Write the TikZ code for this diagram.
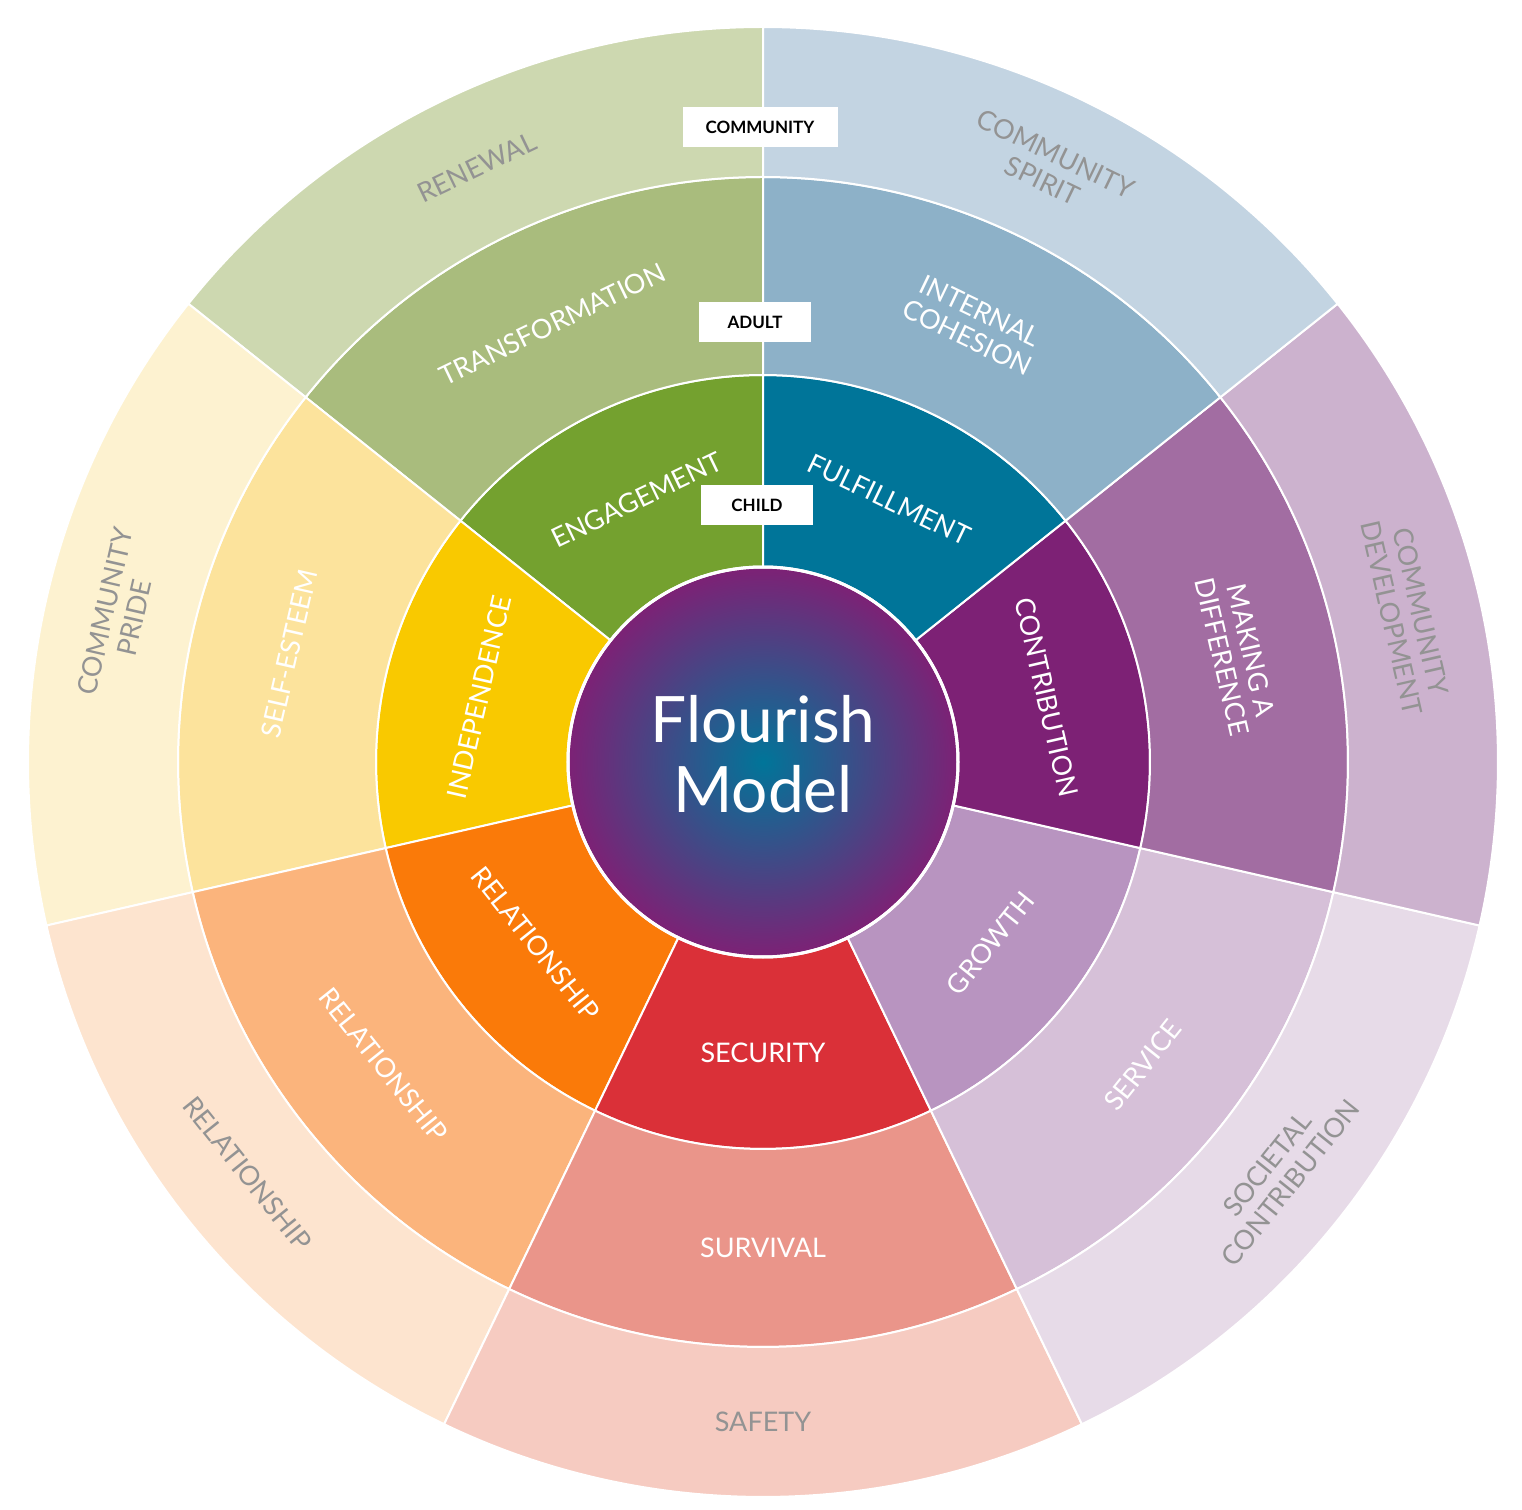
\documentclass[tikz,border=0pt]{standalone}
\usepackage{fontspec}
\setmainfont{Lato}
\begin{document}
\begin{tikzpicture}[x=1pt,y=1pt,
  lab/.style={font=\fontsize{27}{30}\selectfont, align=center, inner sep=0pt},
  inlab/.style={lab,text=white},
  outlab/.style={lab,text=gray!85},
  tag/.style={fill=white, font=\bfseries\fontsize{17}{19}\selectfont, text=black, minimum width=112pt, minimum height=40pt, inner sep=0pt}]
\useasboundingbox (-763,-747) rectangle (759,762);
\fill[white] (-763,-747) rectangle (759,762);
\def\ra{195}\def\rb{387}\def\rc{585}\def\rd{735}
\definecolor{c0a}{HTML}{74A12F}\definecolor{c0b}{HTML}{A9BC7D}\definecolor{c0c}{HTML}{CDD8B0}
\definecolor{c1a}{HTML}{F9C900}\definecolor{c1b}{HTML}{FCE39C}\definecolor{c1c}{HTML}{FDF2D0}
\definecolor{c2a}{HTML}{FA7A09}\definecolor{c2b}{HTML}{FBB47C}\definecolor{c2c}{HTML}{FDE4CF}
\definecolor{c3a}{HTML}{DA3038}\definecolor{c3b}{HTML}{EA958A}\definecolor{c3c}{HTML}{F6CBC1}
\definecolor{c4a}{HTML}{B894C0}\definecolor{c4b}{HTML}{D6C0D8}\definecolor{c4c}{HTML}{E7DBE8}
\definecolor{c5a}{HTML}{7D2175}\definecolor{c5b}{HTML}{A26DA2}\definecolor{c5c}{HTML}{CCB2CE}
\definecolor{c6a}{HTML}{007599}\definecolor{c6b}{HTML}{8DB1C8}\definecolor{c6c}{HTML}{C3D4E2}
\foreach \i in {0,...,6}{
  \pgfmathsetmacro{\aa}{90+51.4286*\i}
  \pgfmathsetmacro{\ab}{90+51.4286*(\i+1)}
  \fill[c\i a, draw=white, line width=2pt] (\aa:\ra) arc (\aa:\ab:\ra) -- (\ab:\rb) arc (\ab:\aa:\rb) -- cycle;
  \fill[c\i b, draw=white, line width=2pt] (\aa:\rb) arc (\aa:\ab:\rb) -- (\ab:\rc) arc (\ab:\aa:\rc) -- cycle;
  \fill[c\i c, draw=white, line width=2pt] (\aa:\rc) arc (\aa:\ab:\rc) -- (\ab:\rd) arc (\ab:\aa:\rd) -- cycle;
}
\shade[inner color=c6a, outer color=c5a, draw=white, line width=3pt] (0,0) circle (\ra);
\draw[white, line width=3pt] (0,0) circle (\ra);
\node[font=\fontsize{64}{70}\selectfont, text=white, align=center] (center) at (0,8) {Flourish\\Model};
% inner ring
\node[inlab, rotate=25.7] (i0) at (115.7:291) {ENGAGEMENT};
\node[inlab, rotate=77.1] (i1) at (167.1:291) {INDEPENDENCE};
\node[inlab, rotate=-51.4] (i2) at (218.6:291) {RELATIONSHIP};
\node[inlab] (i3) at (270:291) {SECURITY};
\node[inlab, rotate=51.4] (i4) at (321.4:291) {GROWTH};
\node[inlab, rotate=-77.1] (i5) at (12.9:291) {CONTRIBUTION};
\node[inlab, rotate=-25.7] (i6) at (64.3:291) {FULFILLMENT};
% middle ring
\node[inlab, rotate=25.7] (m0) at (115.7:486) {TRANSFORMATION};
\node[inlab, rotate=77.1] (m1) at (167.1:486) {SELF-ESTEEM};
\node[inlab, rotate=-51.4] (m2) at (218.6:486) {RELATIONSHIP};
\node[inlab] (m3) at (270:486) {SURVIVAL};
\node[inlab, rotate=51.4] (m4) at (321.4:486) {SERVICE};
\node[inlab, rotate=-77.1] (m5) at (12.9:486) {MAKING A\\DIFFERENCE};
\node[inlab, rotate=-25.7] (m6) at (64.3:486) {INTERNAL\\COHESION};
% outer ring
\node[outlab, rotate=25.7] (o0) at (115.7:660) {RENEWAL};
\node[outlab, rotate=77.1] (o1) at (167.1:660) {COMMUNITY\\PRIDE};
\node[outlab, rotate=-51.4] (o2) at (218.6:660) {RELATIONSHIP};
\node[outlab] (o3) at (270:660) {SAFETY};
\node[outlab, rotate=51.4] (o4) at (321.4:660) {SOCIETAL\\CONTRIBUTION};
\node[outlab, rotate=-77.1] (o5) at (12.9:660) {COMMUNITY\\DEVELOPMENT};
\node[outlab, rotate=-25.7] (o6) at (64.3:660) {COMMUNITY\\SPIRIT};
% tags
\node[tag, minimum width=155pt] (tc) at (-3,635) {COMMUNITY};
\node[tag] (ta) at (-8,440) {ADULT};
\node[tag] (tch) at (-6,257) {CHILD};
\end{tikzpicture}
\end{document}
